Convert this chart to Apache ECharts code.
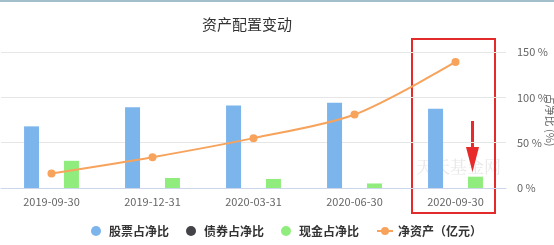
<!DOCTYPE html>
<html>
<head>
<meta charset="utf-8">
<script src="https://cdn.jsdelivr.net/npm/echarts@6/dist/echarts.min.js"></script>
<style>
  html, body { margin: 0; padding: 0; background: #fff; }
  #chart { width: 554px; height: 243px; border-top: 2px solid #a3bfcb; }
</style>
</head>
<body>
<div id="chart"></div>
<script>
var dates = ["2019-09-30", "2019-12-31", "2020-03-31", "2020-06-30", "2020-09-30"];
var stockRatio = [68, 89, 91, 94, 87.5];
var bondRatio = [0, 0, 0, 0, 0];
var cashRatio = [30, 11, 10, 5, 12.5];
var netAssets = [1.6, 3.4, 5.5, 8.1, 13.9];
var ratioTicks = [0, 50, 100, 150];

var font = "'Noto Sans CJK SC', 'Noto Sans', sans-serif";
var myChart = echarts.init(document.getElementById("chart"));
myChart.setOption({
  textStyle: { fontFamily: font },
  animation: false,
  title: {
    text: "资产配置变动",
    left: 242,
    top: 10,
    textAlign: "center",
    textStyle: { fontSize: 15, fontWeight: "normal", color: "#333", fontFamily: font }
  },
  legend: {
    left: 86,
    top: 218,
    itemGap: 17,
    itemWidth: 16,
    itemHeight: 10,
    textStyle: { fontSize: 12, fontWeight: "bold", color: "#333", fontFamily: font },
    data: [
      { name: "股票占净比", icon: "circle" },
      { name: "债券占净比", icon: "circle" },
      { name: "现金占净比", icon: "circle" },
      { name: "净资产（亿元）" }
    ]
  },
  grid: { left: 1, right: 48, top: 50, bottom: 57, outerBoundsMode: "none", containLabel: false },
  xAxis: {
    type: "category",
    data: dates,
    axisLine: { lineStyle: { color: "#ccd6eb" } },
    axisTick: { length: 8, lineStyle: { color: "#ccd6eb" } },
    axisLabel: { color: "#666", fontSize: 11, margin: 8 }
  },
  yAxis: [
    { type: "value", show: false, min: 0, max: 15 },
    {
      type: "value",
      position: "right",
      min: ratioTicks[0],
      max: ratioTicks[ratioTicks.length - 1],
      interval: 50,
      name: "占净比 (%)",
      nameLocation: "middle",
      nameRotate: -90,
      nameGap: 39,
      nameMoveOverlap: false,
      nameTextStyle: { color: "#666", fontSize: 11 },
      axisLine: { show: false },
      axisTick: { show: false },
      axisLabel: { color: "#666", fontSize: 11, margin: 11, formatter: "{value} %" },
      splitLine: { lineStyle: { color: "#e6e6e6" } }
    }
  ],
  series: [
    {
      name: "股票占净比", type: "bar", yAxisIndex: 1, data: stockRatio,
      barWidth: 15, barGap: "33%", itemStyle: { color: "#7cb5ec" }
    },
    {
      name: "债券占净比", type: "bar", yAxisIndex: 1, data: bondRatio,
      barWidth: 15, barGap: "33%", itemStyle: { color: "#434348" }
    },
    {
      name: "现金占净比", type: "bar", yAxisIndex: 1, data: cashRatio,
      barWidth: 15, barGap: "33%", itemStyle: { color: "#90ed7d" }
    },
    {
      name: "净资产（亿元）", type: "line", yAxisIndex: 0, data: netAssets,
      smooth: 0.3, symbol: "circle", symbolSize: 8,
      lineStyle: { color: "#f7a35c", width: 2 },
      itemStyle: { color: "#f7a35c" }
    }
  ],
  graphic: [
    {
      type: "text", left: 416, top: 156, silent: true,
      style: { text: "天天基金网", fontSize: 17, fontFamily: "'Noto Serif CJK SC', 'DejaVu Serif', serif", fill: "rgba(120,120,120,0.18)" }
    },
    {
      type: "rect", silent: true,
      shape: { x: 412, y: 37, width: 83, height: 174 },
      style: { fill: "none", stroke: "#e32b2b", lineWidth: 2 }
    },
    {
      type: "rect", silent: true,
      shape: { x: 471, y: 119, width: 3, height: 28 },
      style: { fill: "#e82a2a" }
    },
    {
      type: "polygon", silent: true,
      shape: { points: [[466, 145], [479, 145], [472.5, 170]] },
      style: { fill: "#e82a2a" }
    }
  ]
});
window.addEventListener("resize", function () {
  myChart.resize();
});
</script>
</body>
</html>
